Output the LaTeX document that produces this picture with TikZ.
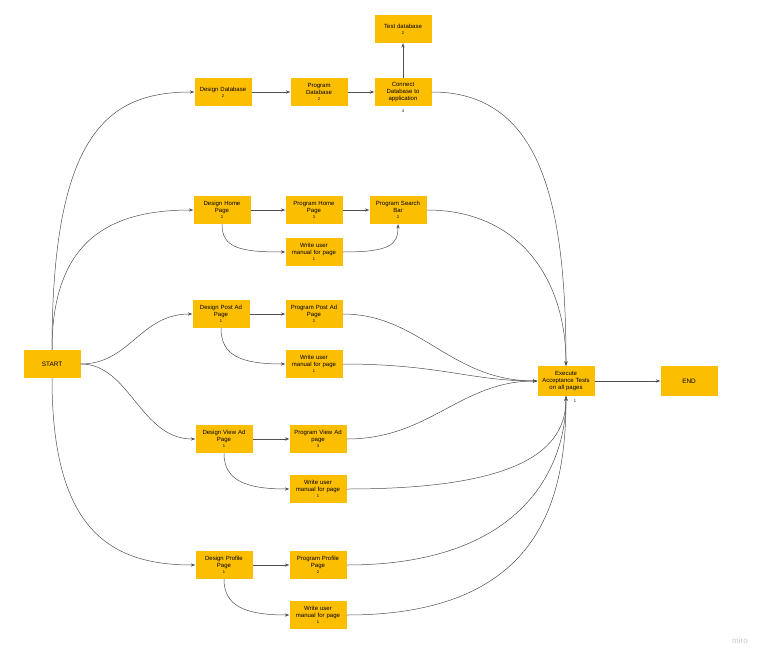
\documentclass[tikz,border=0pt]{standalone}
\usepackage{fontspec}
\setmainfont{Liberation Sans}
\usetikzlibrary{arrows.meta}
\definecolor{miroyellow}{RGB}{252,190,0}
\definecolor{linegray}{RGB}{80,80,80}
\tikzset{
  task/.style={fill=miroyellow, minimum width=56pt, minimum height=28pt, inner sep=1pt,
    align=center, font=\fontsize{6}{6.8}\selectfont, text width=55pt},
  conn/.style={draw=linegray, line width=0.5pt, -{Stealth[length=4.5pt,width=3.2pt]}},
  num/.style={font=\fontsize{4}{4.5}\selectfont}
}
\newcommand{\nb}[1]{\\[-0.5pt]{\fontsize{4}{4.5}\selectfont #1}}
\begin{document}
\begin{tikzpicture}[x=1pt,y=-1pt]
\useasboundingbox (0,0) rectangle (768,661);
\fill[white] (0,0) rectangle (768,661);

\node[task] (start) at (52,364) {\fontsize{6.4}{7}\selectfont START};
\node[task] (dd) at (223,92) {Design Database\nb{2}};
\node[task] (pd) at (319,92) {Program\\Database\nb{2}};
\node[task] (cd) at (403,92) {Connect\\Database to\\application};
\node[num] (cdn) at (403,111) {4};
\node[task] (td) at (403,29) {Test database\nb{2}};

\node[task] (dh) at (222,210) {Design Home\\Page\nb{2}};
\node[task] (ph) at (314,210) {Program Home\\Page\nb{3}};
\node[task] (ps) at (398,210) {Program Search\\Bar\nb{2}};
\node[task] (wh) at (314,252) {Write user\\manual for page\nb{1}};

\node[task] (dp) at (221,314) {Design Post Ad\\Page\nb{1}};
\node[task] (pp) at (314,314) {Program Post Ad\\Page\nb{2}};
\node[task] (wp) at (314,364) {Write user\\manual for page\nb{1}};

\node[task] (dv) at (224,439) {Design View Ad\\Page\nb{1}};
\node[task] (pv) at (318,439) {Program View Ad\\page\nb{3}};
\node[task] (wv) at (318,489) {Write user\\manual for page\nb{1}};

\node[task] (dr) at (224,565) {Design Profile\\Page\nb{1}};
\node[task] (pr) at (318,565) {Program Profile\\Page\nb{2}};
\node[task] (wr) at (318,615) {Write user\\manual for page\nb{1}};

\node[task, minimum height=30pt] (ex) at (566,381) {Execute\\Acceptance Tests\\on all pages};
\node[num] (exn) at (575,401) {1};
\node[task, minimum height=30pt] (end) at (689,381) {\fontsize{6.4}{7}\selectfont END};

\node[font=\fontsize{8}{9}\selectfont, text=black!22] (miro) at (740,641) {miro};

% start to design
\draw[conn] (start.north) .. controls (52,130) and (110,92) .. (dd.west);
\draw[conn] (start.north) .. controls (52,240) and (110,210) .. (dh.west);
\draw[conn] (start.east) .. controls (130,364) and (140,314) .. (dp.west);
\draw[conn] (start.east) .. controls (130,364) and (140,439) .. (dv.west);
\draw[conn] (start.south) .. controls (52,530) and (110,565) .. (dr.west);

% database row
\draw[conn] (dd) -- (pd);
\draw[conn] (pd) -- (cd);
\draw[conn] (cd) -- (td);

% home row
\draw[conn] (dh) -- (ph);
\draw[conn] (ph) -- (ps);
\draw[conn] (dh.south) .. controls (222,248) and (240,252) .. (wh.west);
\draw[conn] (wh.east) .. controls (390,252) and (398,245) .. (ps.south);

% post ad row
\draw[conn] (dp) -- (pp);
\draw[conn] (dp.south) .. controls (221,355) and (240,364) .. (wp.west);

% view ad row
\draw[conn] (dv) -- (pv);
\draw[conn] (dv.south) .. controls (224,480) and (245,489) .. (wv.west);

% profile row
\draw[conn] (dr) -- (pr);
\draw[conn] (dr.south) .. controls (224,606) and (245,615) .. (wr.west);

% into execute
\draw[conn] (cd.east) .. controls (540,92) and (566,200) .. (ex.north);
\draw[conn] (ps.east) .. controls (520,210) and (566,280) .. (ex.north);
\draw[conn] (pp.east) .. controls (420,314) and (450,381) .. (ex.west);
\draw[conn] (wp.east) .. controls (440,364) and (470,381) .. (ex.west);
\draw[conn] (pv.east) .. controls (430,439) and (460,381) .. (ex.west);
\draw[conn] (wv.east) .. controls (520,489) and (566,450) .. (ex.south);
\draw[conn] (pr.east) .. controls (520,565) and (566,470) .. (ex.south);
\draw[conn] (wr.east) .. controls (540,615) and (566,500) .. (ex.south);

\draw[conn] (ex) -- (end);
\end{tikzpicture}
\end{document}
